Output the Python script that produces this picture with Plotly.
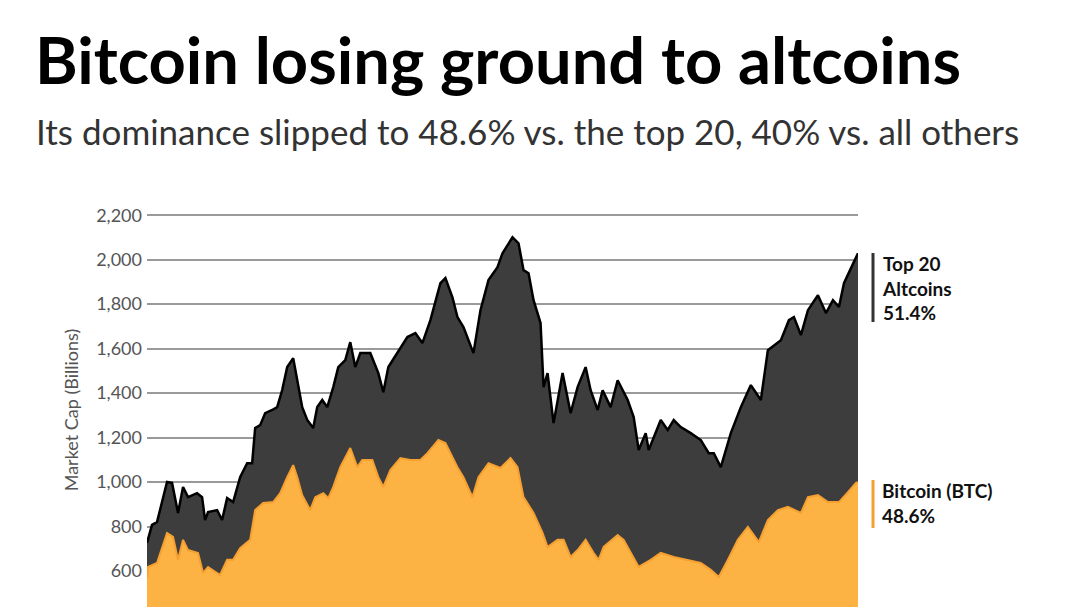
import plotly.graph_objects as go

total_day = [0,5,10,20,25,31,36,41,50,55,58,61,70,75,80,86,93,100,105,108,113,118,125,130,135,140,146,150,155,160,166,170,175,180,186,191,198,203,208,213,223,231,236,241,250,260,268,275,283,293,298,305,310,316,326,333,341,350,355,365,371,376,381,386,393,396,400,406,415,423,430,438,443,450,455,463,470,480,486,491,498,501,513,520,526,533,543,553,561,566,573,580,583,593,603,613,620,633,641,646,653,660,670,678,685,691,696,703,708,710]
total_val = [726,807,820,1000,996,861,978,932,950,932,829,865,874,829,928,910,1022,1085,1085,1243,1256,1310,1324,1337,1414,1517,1557,1458,1337,1279,1243,1337,1369,1337,1427,1517,1548,1629,1517,1580,1580,1490,1404,1517,1580,1652,1670,1625,1728,1894,1917,1831,1742,1697,1580,1773,1908,1966,2029,2101,2074,1953,1939,1818,1715,1427,1490,1265,1490,1310,1427,1517,1413,1324,1413,1337,1458,1369,1292,1144,1220,1144,1279,1234,1279,1247,1220,1189,1130,1130,1067,1175,1220,1337,1436,1369,1593,1638,1728,1742,1661,1773,1840,1760,1818,1787,1894,1962,2007,2029]

btc_day = [0,1,10,20,26,31,36,41,51,56,61,73,80,86,93,103,108,116,126,133,140,146,150,155,163,168,176,181,186,193,203,210,215,225,231,236,243,253,263,273,280,291,298,310,316,325,331,341,353,363,370,376,386,395,400,410,416,423,430,438,446,451,456,470,476,483,491,503,513,526,540,553,563,571,580,590,600,611,620,630,640,653,660,670,680,691,700,708,710]
btc_val = [573,618,636,771,753,650,740,694,681,591,618,582,650,650,703,740,874,906,910,950,1022,1076,1022,941,874,932,950,928,978,1067,1153,1067,1099,1099,1022,978,1054,1108,1099,1099,1130,1189,1175,1067,1022,932,1022,1085,1063,1108,1067,932,861,771,708,740,740,663,694,740,681,650,708,762,740,681,618,650,681,663,650,636,605,573,650,740,798,730,829,874,888,861,932,941,910,910,955,996,1000]

y_ticks = [600,800,1000,1200,1400,1600,1800,2000,2200]

fig = go.Figure()
fig.add_trace(go.Scatter(x=total_day, y=total_val, mode="lines", fill="tozeroy",
                         line=dict(color="#000000", width=2.5), fillcolor="#3d3d3d", hoverinfo="skip"))
fig.add_trace(go.Scatter(x=btc_day, y=btc_val, mode="lines", fill="tozeroy",
                         line=dict(color="#f5a030", width=2), fillcolor="#fdb244", hoverinfo="skip"))

fig.update_layout(
    width=1072, height=599, showlegend=False,
    paper_bgcolor="white", plot_bgcolor="white",
    margin=dict(l=139, r=222, t=205, b=0, autoexpand=False),
    font=dict(family="Lato, sans-serif", color="#333"),
    xaxis=dict(range=[0, 710], visible=False),
    yaxis=dict(range=[438, 2210], tickvals=y_ticks, ticktext=[f"{v:,}" for v in y_ticks],
               showgrid=True, gridcolor="rgba(120,120,120,0.75)", gridwidth=1.5,
               tickfont=dict(size=18, color="#555"), ticks="", zeroline=False,
               layer="above traces", ticklabelstandoff=4,
               title=dict(text="Market Cap (Billions)", font=dict(size=18, color="#555"), standoff=12)),
)

# page-pixel helpers (page has an 8px body offset)
def py(pix):
    return (607 - pix) / 394
def px(pix):
    return (pix - 147) / 711

fig.add_shape(type="rect", xref="paper", yref="paper", x0=px(-10), x1=px(1090), y0=py(5), y1=py(-10), fillcolor="black", line_width=0)
fig.add_annotation(xref="paper", yref="paper", x=px(33), y=py(59), xanchor="left", yanchor="middle",
                   text="<b>Bitcoin losing ground to altcoins</b>", showarrow=False,
                   font=dict(size=65, color="#000", family="Lato, sans-serif"))
fig.add_annotation(xref="paper", yref="paper", x=px(34), y=py(131), xanchor="left", yanchor="middle",
                   text="Its dominance slipped to 48.6% vs. the top 20, 40% vs. all others", showarrow=False,
                   font=dict(size=35, color="#333", family="Lato, sans-serif"))
fig.add_shape(type="line", xref="paper", yref="paper", x0=px(873), x1=px(873), y0=py(253), y1=py(322), line=dict(color="#333", width=3))
fig.add_shape(type="line", xref="paper", yref="paper", x0=px(873), x1=px(873), y0=py(480), y1=py(528), line=dict(color="#f5a030", width=3))
fig.add_annotation(xref="paper", yref="paper", x=px(880), y=py(250), xanchor="left", yanchor="top", align="left",
                   text="<b>Top 20<br>Altcoins<br>51.4%</b>", showarrow=False, font=dict(size=19, color="#111"))
fig.add_annotation(xref="paper", yref="paper", x=px(880), y=py(477), xanchor="left", yanchor="top", align="left",
                   text="<b>Bitcoin (BTC)<br>48.6%</b>", showarrow=False, font=dict(size=19, color="#111"))
fig.write_html("out.html")
